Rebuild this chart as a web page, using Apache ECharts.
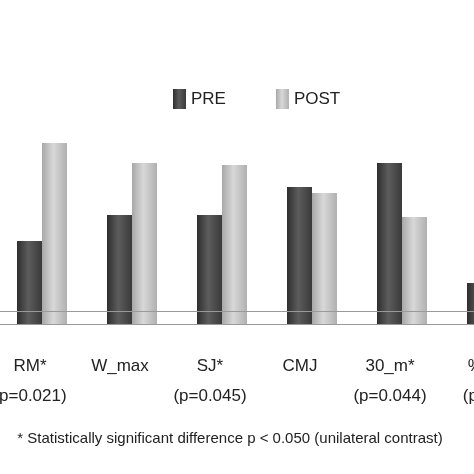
<!DOCTYPE html><html><head><meta charset="utf-8"><script src="https://cdn.jsdelivr.net/npm/echarts@6/dist/echarts.min.js"></script>
<style>html,body{margin:0;background:#fff}#c{width:474px;height:474px}</style></head><body><div id="c"></div><script>
const categories=['RM*\n(p=0.021)','W_max','SJ*\n(p=0.045)','CMJ','30_m*\n(p=0.044)','% I\n(p=0'];
const pre=[83,109,109,137,161,41];
const post=[181,161,159,131,107,30];
const F='"Liberation Sans Narrow","Liberation Sans",sans-serif';
function grad(a,b,c){return {type:'linear',x:0,y:0,x2:1,y2:0,colorStops:[{offset:0,color:a},{offset:0.45,color:b},{offset:1,color:c}]};}
const ch=echarts.init(document.getElementById('c'));
ch.setOption({
 animation:false,
 legend:{top:84,left:168,itemGap:50,itemWidth:13,itemHeight:20,icon:'rect',textStyle:{fontFamily:F,fontSize:17,color:'#222'},data:['PRE','POST']},
 title:{text:'* Statistically significant difference p < 0.050 (unilateral contrast)',left:225,textAlign:'center',top:426,textStyle:{fontFamily:F,fontSize:15,fontWeight:'normal',color:'#222'}},
 grid:{left:-3,right:-63,top:124,bottom:143,outerBoundsMode:'none',containLabel:false},
 xAxis:{type:'category',data:categories,axisLine:{lineStyle:{color:'#999'}},axisTick:{length:9,lineStyle:{color:'#999'}},
  axisLabel:{interval:0,hideOverlap:false,fontFamily:F,fontSize:17,color:'#222',margin:20,lineHeight:30,padding:[0,24,0,0]}},
 yAxis:{type:'value',min:-7,max:200,show:false,splitLine:{show:false}},
 series:[
  {name:'PRE',type:'bar',data:pre,barWidth:25,barGap:'0%',itemStyle:{color:grad('#2e2e2e','#5c5c5c','#3a3a3a')},
   markLine:{silent:true,symbol:'none',label:{show:false},lineStyle:{color:'#999',type:'solid',width:1},data:[{yAxis:13}]}},
  {name:'POST',type:'bar',data:post,barWidth:25,itemStyle:{color:grad('#a8a8a8','#d8d8d8','#b0b0b0')}}
 ]
});
</script></body></html>
